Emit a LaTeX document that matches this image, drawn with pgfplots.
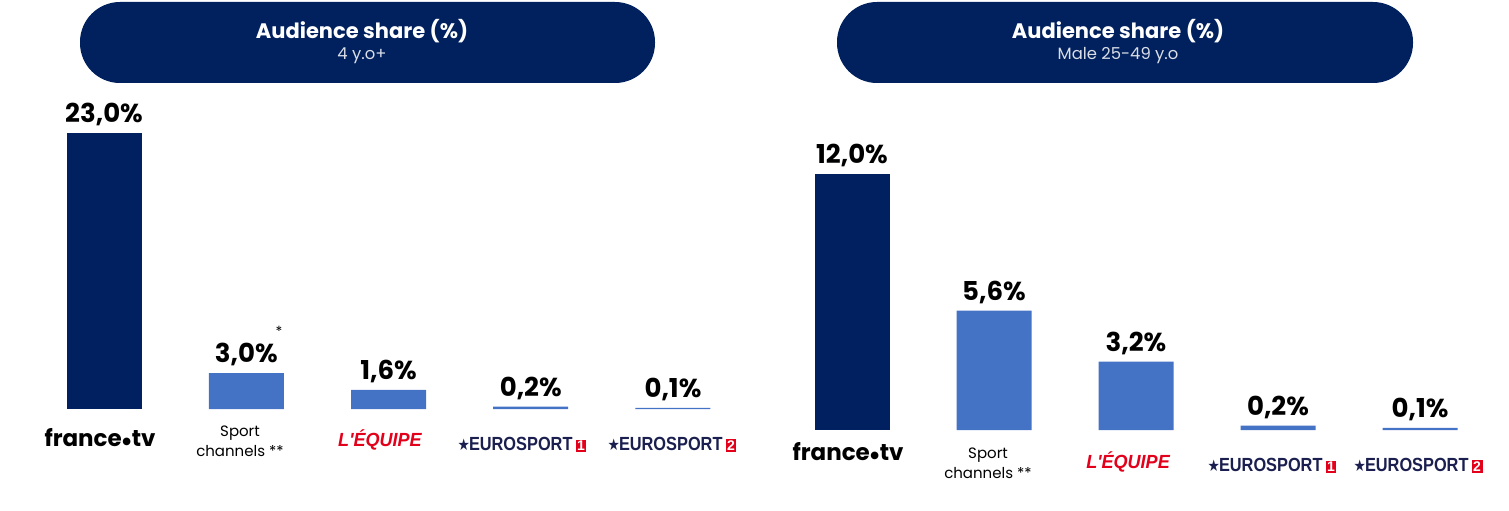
\documentclass[border=0pt]{standalone}
\usepackage{graphicx}
\usepackage{pgfplots}
\pgfplotsset{compat=1.18}
\usepackage{fontspec}
\setmainfont{Poppins}
\newfontfamily\libsans{Liberation Sans}
\newfontfamily\dejavu{DejaVu Sans}
\definecolor{navy}{HTML}{002060}
\definecolor{banner}{HTML}{01205E}
\definecolor{lightblue}{HTML}{4472C4}
\definecolor{eqred}{HTML}{E2001A}
\definecolor{esnavy}{HTML}{1B1F4F}

% logos as text
\newcommand{\ftv}{{\bfseries\fontsize{11.5}{11.5}\selectfont france\kern0.3pt{\dejavu\fontsize{5}{5}\selectfont\raisebox{0.45ex}{●}}\kern0.3pt tv}}
\newcommand{\equipe}{{\libsans\bfseries\itshape\color{eqred}\fontsize{9.5}{9.5}\selectfont\scalebox{0.95}[1]{L'ÉQUIPE}}}
\newcommand{\eurosport}[1]{{\libsans\bfseries\fontsize{9.5}{9.5}\selectfont\color{esnavy}\scalebox{0.86}[1]{{\dejavu\fontsize{8}{8}\selectfont ★}\kern-0.5pt EUROSPORT}\kern1.5pt{\setlength{\fboxsep}{0.8pt}\colorbox{eqred}{\textcolor{white}{\fontsize{7}{7}\selectfont #1}}}}}

\tikzset{lab/.style={anchor=center, align=center, inner sep=0pt},
  sport/.style={lab, font=\fontsize{7.5}{10}\selectfont}}

\begin{document}
\begin{tikzpicture}
\path[use as bounding box] (0,0) rectangle (754.5pt,255pt);

% title banners
\fill[banner, rounded corners=20pt] (40pt,213.5pt) rectangle (327.5pt,254pt);
\node[text=white, font=\bfseries\fontsize{10.5}{10.5}\selectfont] at (181pt,239.5pt) {Audience share (\%)};
\node[text=white!85!banner, font=\fontsize{8.2}{8.2}\selectfont] at (181pt,227pt) {4 y.o+};

\fill[banner, rounded corners=20pt] (418.5pt,213.5pt) rectangle (706.5pt,254pt);
\node[text=white, font=\bfseries\fontsize{10.5}{10.5}\selectfont] at (559pt,239.5pt) {Audience share (\%)};
\node[text=white!85!banner, font=\fontsize{8.2}{8.2}\selectfont] at (559pt,227pt) {Male 25-49 y.o};

% left panel: 4 y.o+
\begin{axis}[hide axis, scale only axis, at={(16.45pt,50.5pt)}, anchor=south west,
  width=355.6pt, height=150pt, xmin=-0.5, xmax=4.5, ymin=0, ymax=25,
  ybar, bar width=37.5pt, bar shift=0pt, clip=false,
  nodes near coords, point meta=explicit symbolic,
  every node near coord/.append style={font=\bfseries\fontsize{13}{13}\selectfont, text=black}]
\addplot[fill=navy, draw=none] coordinates {(0,23.0) [23,0\%]};
\addplot[fill=lightblue, draw=none] coordinates {(1,3.0) [3,0\%] (2,1.6) [1,6\%] (3,0.2) [0,2\%] (4,0.1) [0,1\%]};
\end{axis}

% right panel: Male 25-49 y.o
\begin{axis}[hide axis, scale only axis, at={(390.5pt,40pt)}, anchor=south west,
  width=355pt, height=149.33pt, xmin=-0.5, xmax=4.5, ymin=0, ymax=14,
  ybar, bar width=37.5pt, bar shift=0pt, clip=false,
  nodes near coords, point meta=explicit symbolic,
  every node near coord/.append style={font=\bfseries\fontsize{13}{13}\selectfont, text=black}]
\addplot[fill=navy, draw=none] coordinates {(0,12.0) [12,0\%]};
\addplot[fill=lightblue, draw=none] coordinates {(1,5.6) [5,6\%] (2,3.2) [3,2\%] (3,0.2) [0,2\%] (4,0.1) [0,1\%]};
\end{axis}

% category labels (left panel centres 52pt + 71.11pt*i, baseline 50.5pt)
\node[font=\fontsize{7}{7}\selectfont] at (139.5pt,89.5pt) {*};
\node[lab] at (50pt,36pt) {\ftv};
\node[sport] at (120pt,34.5pt) {Sport\\channels **};
\node[lab] at (190pt,35pt) {\equipe};
\node[lab] at (261pt,32.5pt) {\eurosport{1}};
\node[lab] at (336pt,32.5pt) {\eurosport{2}};
% right panel centres 426pt + 71pt*i, baseline 40pt
\node[lab] at (424pt,29pt) {\ftv};
\node[sport] at (494pt,23.5pt) {Sport\\channels **};
\node[lab] at (564pt,24pt) {\equipe};
\node[lab] at (636pt,22pt) {\eurosport{1}};
\node[lab] at (709pt,22pt) {\eurosport{2}};
\end{tikzpicture}
\end{document}
